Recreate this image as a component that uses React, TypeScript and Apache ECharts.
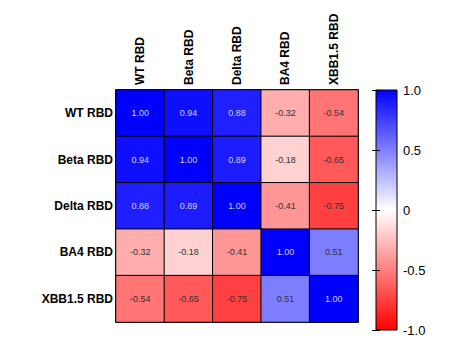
import React, { useEffect, useRef } from "react";
import * as echarts from "echarts";

const categories = ["WT RBD", "Beta RBD", "Delta RBD", "BA4 RBD", "XBB1.5 RBD"];
const matrix: number[][] = [
  [1.0, 0.94, 0.88, -0.32, -0.54],
  [0.94, 1.0, 0.89, -0.18, -0.65],
  [0.88, 0.89, 1.0, -0.41, -0.75],
  [-0.32, -0.18, -0.41, 1.0, 0.51],
  [-0.54, -0.65, -0.75, 0.51, 1.0],
];
const scaleMin = -1;
const scaleMax = 1;
const scaleStep = 0.5;
const scaleLabels: Record<string, string> = { "1": "1.0", "0.5": "0.5", "0": "0", "-0.5": "-0.5", "-1": "-1.0" };

const FONT = "'Liberation Sans', Arial, sans-serif";

export default function App() {
  const ref = useRef<HTMLDivElement>(null);
  useEffect(() => {
    if (!ref.current) return;
    const chart = echarts.init(ref.current, undefined, { renderer: "svg" });
    const data: any[] = [];
    matrix.forEach((row, r) =>
      row.forEach((v, c) => {
        data.push({
          value: [c, r, v],
          label: { color: v > 0.7 ? "#d0d0ff" : "#333333" },
        });
      })
    );
    chart.setOption({
      animation: false,
      backgroundColor: "#ffffff",
      textStyle: { fontFamily: FONT },
      grid: [
        { left: 116, top: 90, width: 242, height: 232, show: true, borderColor: "#000", borderWidth: 1.5, backgroundColor: "transparent" },
        {
          left: 376, top: 90, width: 21, height: 240, show: true, borderColor: "#000", borderWidth: 1,
          backgroundColor: new echarts.graphic.LinearGradient(0, 0, 0, 1, [
            { offset: 0, color: "#0000ff" },
            { offset: 0.5, color: "#ffffff" },
            { offset: 1, color: "#ff0000" },
          ]),
        },
      ],
      xAxis: [
        {
          type: "category", gridIndex: 0, data: categories, position: "top",
          axisLine: { show: false }, axisTick: { show: false }, splitLine: { show: false },
          axisLabel: { rotate: -90, fontWeight: "bold", fontSize: 12, color: "#000", margin: 5, fontFamily: FONT },
        },
        { type: "value", gridIndex: 1, show: false, min: 0, max: 1 },
      ],
      yAxis: [
        {
          type: "category", gridIndex: 0, data: categories, inverse: true,
          axisLine: { show: false }, axisTick: { show: false }, splitLine: { show: false },
          axisLabel: { fontWeight: "bold", fontSize: 12, color: "#000", margin: 3, fontFamily: FONT },
        },
        {
          type: "value", gridIndex: 1, position: "right", min: scaleMin, max: scaleMax, interval: scaleStep,
          axisLine: { show: false }, splitLine: { show: false },
          axisTick: { show: true, inside: true, length: 4, lineStyle: { color: "#000" } },
          axisLabel: { fontSize: 13, color: "#000", margin: 6, fontFamily: FONT, formatter: (v: number) => scaleLabels[String(v)] ?? String(v) },
        },
        {
          type: "value", gridIndex: 1, position: "left", min: scaleMin, max: scaleMax, interval: scaleStep,
          axisLine: { show: false }, splitLine: { show: false },
          axisTick: { show: true, inside: true, length: 4, lineStyle: { color: "#000" } },
          axisLabel: { show: false },
        },
      ],
      visualMap: {
        show: false, type: "continuous", min: scaleMin, max: scaleMax, seriesIndex: 0, dimension: 2,
        inRange: { color: ["#ff0000", "#ffffff", "#0000ff"] },
      },
      series: [
        {
          type: "heatmap", xAxisIndex: 0, yAxisIndex: 0, data,
          itemStyle: { borderColor: "#000", borderWidth: 1 },
          label: {
            show: true, fontSize: 9, fontFamily: FONT,
            formatter: (p: any) => (p.value[2] as number).toFixed(2),
          },
          emphasis: { disabled: true },
        },
      ],
    });
    return () => chart.dispose();
  }, []);
  return <div ref={ref} style={{ position: "fixed", left: 0, top: 0, width: 474, height: 350 }} />;
}
